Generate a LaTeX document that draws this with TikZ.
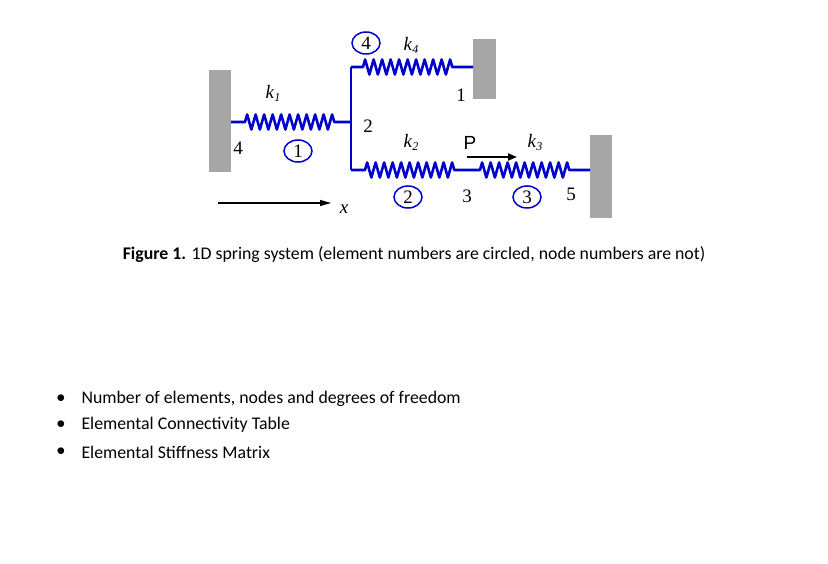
\documentclass[tikz,border=0pt]{standalone}
\usepackage{fontspec}
\setmainfont{Liberation Serif}
\newfontfamily\carlitofont{Carlito}
\newfontfamily\arialfont{Liberation Sans}
\usetikzlibrary{decorations.pathmorphing,arrows.meta,shapes.geometric}
\begin{document}
\begin{tikzpicture}[x=1pt,y=-1pt,
  wall/.style={fill=gray!70,draw=none},
  spr/.style={draw=blue!80!black,line width=2.6pt,line join=round,decorate,decoration={zigzag,segment length=8.5pt,amplitude=7.5pt,pre length=14pt,post length=16pt}},
  lnk/.style={draw=blue!80!black,line width=2.6pt},
  circ/.style={draw=blue!80!black,line width=1.5pt,ellipse,inner sep=0pt,minimum width=28pt,minimum height=22pt,font=\fontsize{19}{19}\selectfont},
  lab/.style={font=\fontsize{19}{19}\selectfont},
  txt/.style={font=\carlitofont\fontsize{17.8}{20}\selectfont,anchor=west}]
\useasboundingbox (0,0) rectangle (828,564);
\fill[white] (0,0) rectangle (828,564);
% walls
\fill[wall] (209,70) rectangle (231,172);
\fill[wall] (473,39) rectangle (496,99);
\fill[wall] (590,135) rectangle (612,218);
\coordinate (w1) at (231,122);
\coordinate (j1) at (351,122);
\coordinate (jt) at (351,67);
\coordinate (jb) at (351,170);
\coordinate (w2) at (473,67);
\coordinate (n3) at (472,170);
\coordinate (w3) at (590,170);
\draw[spr] (w1) -- (j1);
\draw[lnk] (jt) -- (jb);
\draw[spr,decoration={pre length=12pt,post length=20pt}] (jt) -- (w2);
\draw[spr] (jb) -- (n3);
\draw[spr,decoration={pre length=8pt,post length=18pt}] (n3) -- (w3);
% labels
\node[lab] (k1) at (273,93) {\textit{k}\raisebox{-3pt}{\fontsize{12}{12}\selectfont\textit{1}}};
\node[lab] (k4) at (411,45) {\textit{k}\raisebox{-3pt}{\fontsize{12}{12}\selectfont\textit{4}}};
\node[lab] (k2) at (411,142) {\textit{k}\raisebox{-3pt}{\fontsize{12}{12}\selectfont\textit{2}}};
\node[lab] (k3) at (535,142) {\textit{k}\raisebox{-3pt}{\fontsize{12}{12}\selectfont\textit{3}}};
\node[circ] (c1) at (298,151) {1};
\node[circ] (c4b) at (366,43) {4};
\node[circ] (c2) at (408,197) {2};
\node[circ] (c3) at (527,197) {3};
\node[lab] (n4) at (238,148) {4};
\node[lab] (n2) at (368,126) {2};
\node[lab] (n1) at (461,95) {1};
\node[lab] (n3l) at (467,196) {3};
\node[lab] (n5) at (571,194) {5};
\node[font=\arialfont\fontsize{19}{19}\selectfont] (P) at (470,143) {P};
\coordinate (pa) at (467,157); \coordinate (pb) at (517,157);
\draw[line width=2pt,-{Triangle[length=9pt,width=7pt]}] (pa) -- (pb);
\coordinate (xa) at (218,203); \coordinate (xb) at (331,203);
\draw[line width=1.2pt,-{Triangle[length=11pt,width=6pt]}] (xa) -- (xb);
\node[lab] (xl) at (344,209) {\textit{x}};
% caption
\node[font=\carlitofont\fontsize{17.8}{20}\selectfont] (cap) at (414,255) {\textbf{Figure 1.} 1D spring system (element numbers are circled, node numbers are not)};
\node[font=\fontsize{16}{16}\selectfont] (b1) at (61,399) {$\bullet$};
\node[txt] (t1) at (78,399) {Number of elements, nodes and degrees of freedom};
\node[font=\fontsize{16}{16}\selectfont] (b2) at (61,425) {$\bullet$};
\node[txt] (t2) at (78,425) {Elemental Connectivity Table};
\node[font=\fontsize{16}{16}\selectfont] (b3) at (61,452) {$\bullet$};
\node[txt] (t3) at (78,452) {Elemental Stiffness Matrix};
\end{tikzpicture}
\end{document}
